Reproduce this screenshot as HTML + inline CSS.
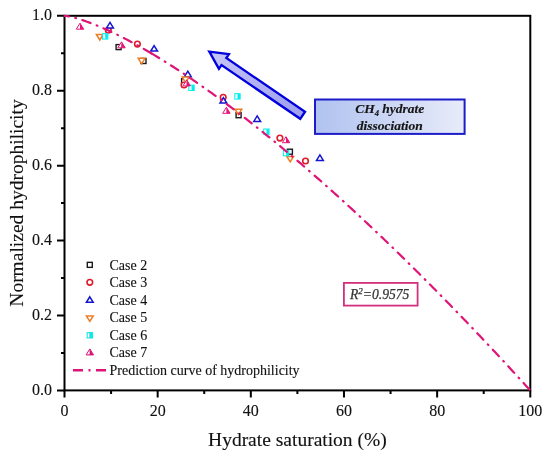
<!DOCTYPE html>
<html><head><meta charset="utf-8"><style>
html,body{margin:0;padding:0;background:#fff;width:550px;height:457px;overflow:hidden}
svg{display:block;font-family:"Liberation Serif","Times New Roman",serif}
.t{fill:#111;stroke:#111;stroke-width:0.12px}
.bi{font-style:italic;font-weight:bold;font-size:13.5px;fill:#151515;stroke:#151515;stroke-width:0.15px}
.it{font-style:italic;font-size:13.6px;fill:#333;stroke:#333;stroke-width:0.25px}
</style></head><body>
<svg width="550" height="457" viewBox="0 0 550 457">
<rect width="550" height="457" fill="#fff"/>
<defs><linearGradient id="ag" gradientUnits="userSpaceOnUse" x1="0" y1="0" x2="113" y2="0"><stop offset="0" stop-color="#c6c6f6"/><stop offset="1" stop-color="#9e9eee"/></linearGradient><linearGradient id="bg" x1="0" y1="0" x2="1" y2="0"><stop offset="0" stop-color="#b0c2f0"/><stop offset="1" stop-color="#e8ecf9"/></linearGradient></defs><g transform="translate(209.3,51.6) rotate(34.3)"><path d="M0,0 L17.7,-8.9 L17.7,-4.25 L113.0,-4.25 L113.0,4.25 L17.7,4.25 L17.7,8.9 Z" fill="url(#ag)" stroke="#0000dc" stroke-width="2.3" stroke-linejoin="miter"/></g>
<rect x="64.5" y="15.8" width="465.80" height="374.60" fill="none" stroke="#000" stroke-width="2"/><path d="M64.50,390.40 v7 M111.08,390.40 v3.5 M157.66,390.40 v7 M204.24,390.40 v3.5 M250.82,390.40 v7 M297.40,390.40 v3.5 M343.98,390.40 v7 M390.56,390.40 v3.5 M437.14,390.40 v7 M483.72,390.40 v3.5 M530.30,390.40 v7 M64.50,390.40 h-7.5 M64.50,352.94 h-3.5 M64.50,315.48 h-7.5 M64.50,278.02 h-3.5 M64.50,240.56 h-7.5 M64.50,203.10 h-3.5 M64.50,165.64 h-7.5 M64.50,128.18 h-3.5 M64.50,90.72 h-7.5 M64.50,53.26 h-3.5 M64.50,15.80 h-7.5" stroke="#000" stroke-width="2" fill="none"/>
<g class="t" font-size="16"><text x="64.50" y="415.8" text-anchor="middle">0</text><text x="157.66" y="415.8" text-anchor="middle">20</text><text x="250.82" y="415.8" text-anchor="middle">40</text><text x="343.98" y="415.8" text-anchor="middle">60</text><text x="437.14" y="415.8" text-anchor="middle">80</text><text x="530.30" y="415.8" text-anchor="middle">100</text><text x="52.1" y="394.80" text-anchor="end">0.0</text><text x="52.1" y="319.88" text-anchor="end">0.2</text><text x="52.1" y="244.96" text-anchor="end">0.4</text><text x="52.1" y="170.04" text-anchor="end">0.6</text><text x="52.1" y="95.12" text-anchor="end">0.8</text><text x="52.1" y="20.20" text-anchor="end">1.0</text></g>
<g class="t"><text x="297.4" y="445.7" text-anchor="middle" font-size="19.5">Hydrate saturation (%)</text><text transform="translate(23.3,203) rotate(-90)" text-anchor="middle" font-size="19.5">Normalized hydrophilicity</text></g>
<rect x="116.10" y="44.60" width="5" height="5" fill="#fff" stroke="#1a1a1a" stroke-width="1.4"/><rect x="141.00" y="58.50" width="5" height="5" fill="#fff" stroke="#1a1a1a" stroke-width="1.4"/><rect x="181.60" y="78.70" width="5" height="5" fill="#fff" stroke="#1a1a1a" stroke-width="1.4"/><rect x="236.10" y="112.70" width="5" height="5" fill="#fff" stroke="#1a1a1a" stroke-width="1.4"/><rect x="287.40" y="149.20" width="5" height="5" fill="#fff" stroke="#1a1a1a" stroke-width="1.4"/><circle cx="108.30" cy="30.20" r="2.8" fill="#fff" stroke="#dd1c2c" stroke-width="1.6"/><circle cx="137.40" cy="44.10" r="2.8" fill="#fff" stroke="#dd1c2c" stroke-width="1.6"/><circle cx="184.00" cy="85.00" r="2.8" fill="#fff" stroke="#dd1c2c" stroke-width="1.6"/><circle cx="223.20" cy="97.30" r="2.8" fill="#fff" stroke="#dd1c2c" stroke-width="1.6"/><circle cx="279.90" cy="138.10" r="2.8" fill="#fff" stroke="#dd1c2c" stroke-width="1.6"/><circle cx="305.50" cy="161.00" r="2.8" fill="#fff" stroke="#dd1c2c" stroke-width="1.6"/><path d="M110.00,22.40 L113.40,27.90 L106.60,27.90 Z" fill="#fff" stroke="#1414d2" stroke-width="1.5"/><path d="M154.10,45.60 L157.50,51.10 L150.70,51.10 Z" fill="#fff" stroke="#1414d2" stroke-width="1.5"/><path d="M187.80,71.20 L191.20,76.70 L184.40,76.70 Z" fill="#fff" stroke="#1414d2" stroke-width="1.5"/><path d="M223.40,97.60 L226.80,103.10 L220.00,103.10 Z" fill="#fff" stroke="#1414d2" stroke-width="1.5"/><path d="M257.20,115.90 L260.60,121.40 L253.80,121.40 Z" fill="#fff" stroke="#1414d2" stroke-width="1.5"/><path d="M319.90,154.90 L323.30,160.40 L316.50,160.40 Z" fill="#fff" stroke="#1414d2" stroke-width="1.5"/><path d="M99.80,40.00 L103.20,34.50 L96.40,34.50 Z" fill="#fff" stroke="#ee7d22" stroke-width="1.5"/><path d="M141.60,63.80 L145.00,58.30 L138.20,58.30 Z" fill="#fff" stroke="#ee7d22" stroke-width="1.5"/><path d="M185.60,82.60 L189.00,77.10 L182.20,77.10 Z" fill="#fff" stroke="#ee7d22" stroke-width="1.5"/><path d="M238.40,114.70 L241.80,109.20 L235.00,109.20 Z" fill="#fff" stroke="#ee7d22" stroke-width="1.5"/><path d="M290.20,161.90 L293.60,156.40 L286.80,156.40 Z" fill="#fff" stroke="#ee7d22" stroke-width="1.5"/><rect x="102.70" y="33.90" width="2.5" height="5" fill="#fff"/><rect x="105.20" y="33.90" width="2.5" height="5" fill="#00eeee"/><rect x="102.50" y="33.70" width="5.4" height="5.4" fill="none" stroke="#00eeee" stroke-width="1.0"/><rect x="189.00" y="85.30" width="2.5" height="5" fill="#fff"/><rect x="191.50" y="85.30" width="2.5" height="5" fill="#00eeee"/><rect x="188.80" y="85.10" width="5.4" height="5.4" fill="none" stroke="#00eeee" stroke-width="1.0"/><rect x="235.00" y="93.90" width="2.5" height="5" fill="#fff"/><rect x="237.50" y="93.90" width="2.5" height="5" fill="#00eeee"/><rect x="234.80" y="93.70" width="5.4" height="5.4" fill="none" stroke="#00eeee" stroke-width="1.0"/><rect x="263.90" y="129.20" width="2.5" height="5" fill="#fff"/><rect x="266.40" y="129.20" width="2.5" height="5" fill="#00eeee"/><rect x="263.70" y="129.00" width="5.4" height="5.4" fill="none" stroke="#00eeee" stroke-width="1.0"/><rect x="283.60" y="150.60" width="2.5" height="5" fill="#fff"/><rect x="286.10" y="150.60" width="2.5" height="5" fill="#00eeee"/><rect x="283.40" y="150.40" width="5.4" height="5.4" fill="none" stroke="#00eeee" stroke-width="1.0"/><path d="M80.00,23.20 L76.30,29.20 L80.00,29.20 Z" fill="#fff"/><path d="M80.00,23.20 L83.70,29.20 L80.00,29.20 Z" fill="#e6127a"/><path d="M80.00,23.20 L83.70,29.20 L76.30,29.20 Z" fill="none" stroke="#e6127a" stroke-width="1.0"/><path d="M121.50,41.80 L117.80,47.80 L121.50,47.80 Z" fill="#fff"/><path d="M121.50,41.80 L125.20,47.80 L121.50,47.80 Z" fill="#e6127a"/><path d="M121.50,41.80 L125.20,47.80 L117.80,47.80 Z" fill="none" stroke="#e6127a" stroke-width="1.0"/><path d="M186.70,79.90 L183.00,85.90 L186.70,85.90 Z" fill="#fff"/><path d="M186.70,79.90 L190.40,85.90 L186.70,85.90 Z" fill="#e6127a"/><path d="M186.70,79.90 L190.40,85.90 L183.00,85.90 Z" fill="none" stroke="#e6127a" stroke-width="1.0"/><path d="M226.40,107.30 L222.70,113.30 L226.40,113.30 Z" fill="#fff"/><path d="M226.40,107.30 L230.10,113.30 L226.40,113.30 Z" fill="#e6127a"/><path d="M226.40,107.30 L230.10,113.30 L222.70,113.30 Z" fill="none" stroke="#e6127a" stroke-width="1.0"/><path d="M286.00,136.70 L282.30,142.70 L286.00,142.70 Z" fill="#fff"/><path d="M286.00,136.70 L289.70,142.70 L286.00,142.70 Z" fill="#e6127a"/><path d="M286.00,136.70 L289.70,142.70 L282.30,142.70 Z" fill="none" stroke="#e6127a" stroke-width="1.0"/>
<path d="M64.50,15.80 L66.49,16.01 L68.46,16.35 L70.42,16.75 L72.37,17.20 L74.31,17.69 L76.24,18.22 L78.16,18.78 L80.07,19.36 L81.97,19.97 L83.87,20.60 L85.76,21.26 L87.64,21.93 L89.52,22.62 L91.39,23.33 L93.26,24.05 L95.11,24.79 L96.97,25.55 L98.81,26.31 L100.65,27.09 L102.49,27.89 L104.32,28.69 L106.15,29.51 L107.97,30.34 L109.78,31.17 L111.59,32.02 L113.40,32.88 L115.20,33.75 L117.00,34.63 L118.79,35.51 L120.58,36.41 L122.37,37.31 L124.15,38.22 L125.92,39.14 L127.69,40.07 L129.46,41.00 L131.23,41.95 L132.99,42.90 L134.74,43.85 L136.50,44.82 L138.24,45.79 L139.99,46.76 L141.73,47.75 L143.47,48.74 L145.20,49.73 L146.94,50.73 L148.66,51.74 L150.39,52.75 L151.42,53.36" fill="none" stroke="#de1477" stroke-width="2.2" stroke-linecap="round" stroke-dasharray="8.8 6.55 0.8 6.51" stroke-dashoffset="4.35"/><path d="M151.42,53.36 L153.14,54.38 L154.86,55.41 L156.57,56.44 L158.28,57.48 L159.99,58.52 L161.69,59.57 L163.39,60.62 L165.09,61.68 L166.78,62.74 L168.48,63.81 L170.16,64.88 L171.85,65.96 L173.53,67.04 L175.21,68.12 L176.89,69.21 L178.57,70.30 L180.24,71.40 L181.91,72.50 L183.57,73.61 L185.24,74.72 L186.90,75.83 L188.56,76.95 L190.21,78.07 L191.87,79.20 L193.52,80.32 L195.17,81.46 L196.81,82.59 L198.46,83.73 L200.10,84.88 L201.74,86.02 L203.37,87.17 L205.01,88.32 L206.64,89.48 L208.27,90.64 L209.90,91.80 L211.52,92.97 L213.14,94.14 L214.76,95.31 L216.38,96.49 L218.00,97.66 L219.61,98.85 L221.22,100.03 L222.83,101.22 L224.44,102.41 L226.05,103.60 L227.65,104.80 L229.25,106.00 L230.85,107.20 L232.45,108.40 L234.04,109.61 L235.63,110.82 L237.22,112.03 L238.81,113.24 L240.40,114.46 L241.98,115.68 L243.57,116.90 L245.15,118.13 L246.73,119.36 L248.30,120.59 L249.88,121.82 L251.45,123.05 L253.02,124.29 L254.59,125.53 L256.16,126.77 L257.73,128.02 L259.29,129.26 L260.85,130.51 L262.42,131.76 L263.97,133.01 L265.53,134.27 L267.09,135.53 L268.64,136.79 L270.19,138.05 L271.74,139.31 L273.29,140.58 L274.84,141.85 L276.38,143.12 L277.92,144.39 L279.47,145.66 L281.01,146.94 L282.54,148.22 L284.08,149.50 L285.62,150.78 L287.15,152.06 L288.68,153.35 L290.21,154.64 L291.74,155.93 L293.27,157.22 L294.79,158.51 L296.32,159.81 L297.84,161.10 L299.36,162.40 L300.88,163.70 L302.40,165.01 L303.91,166.31 L305.43,167.62 L306.94,168.92 L308.45,170.23 L309.96,171.55 L311.47,172.86 L312.98,174.17 L314.48,175.49 L315.99,176.81 L317.49,178.13 L318.99,179.45 L320.49,180.77 L321.99,182.10 L323.49,183.42 L324.98,184.75 L326.48,186.08 L327.97,187.41 L329.46,188.74 L330.95,190.08 L332.44,191.41 L333.93,192.75 L335.42,194.09 L336.90,195.43 L338.38,196.77 L339.87,198.11 L341.35,199.45 L342.83,200.80 L344.30,202.15 L345.78,203.50 L347.26,204.85 L348.73,206.20 L350.20,207.55 L351.68,208.91 L353.15,210.26 L354.61,211.62 L356.08,212.98 L357.55,214.34 L359.01,215.70 L360.48,217.06 L361.94,218.43 L363.40,219.79 L364.86,221.16 L366.32,222.52 L367.78,223.89 L369.24,225.26 L370.69,226.64 L372.15,228.01 L373.60,229.38 L375.05,230.76 L376.50,232.14 L377.95,233.51 L379.40,234.89 L380.85,236.27 L382.29,237.66 L383.74,239.04 L385.18,240.42 L386.62,241.81 L388.06,243.19 L389.50,244.58 L390.94,245.97 L392.38,247.36 L393.82,248.75 L395.25,250.15 L396.69,251.54 L398.12,252.93 L399.55,254.33 L400.99,255.73 L402.42,257.12 L403.84,258.52 L405.27,259.92 L406.70,261.33 L408.13,262.73 L409.55,264.13 L410.97,265.54 L412.40,266.94 L413.82,268.35 L415.24,269.76 L416.66,271.17 L418.08,272.58 L419.49,273.99 L420.91,275.40 L422.32,276.81 L423.74,278.23 L425.15,279.64 L426.56,281.06 L427.97,282.48 L429.38,283.89 L430.79,285.31 L432.20,286.73 L433.61,288.16 L435.02,289.58 L436.42,291.00 L437.82,292.43 L439.23,293.85 L440.63,295.28 L442.03,296.70 L443.43,298.13 L444.83,299.56 L446.23,300.99 L447.62,302.42 L449.02,303.85 L450.42,305.29 L451.81,306.72 L453.20,308.16 L454.60,309.59 L455.99,311.03 L457.38,312.47 L458.77,313.90 L460.16,315.34 L461.54,316.78 L462.93,318.23 L464.32,319.67 L465.70,321.11 L467.09,322.55 L468.47,324.00 L469.85,325.44 L471.23,326.89 L472.61,328.34 L473.99,329.79 L475.37,331.24 L476.75,332.69 L478.12,334.14 L479.50,335.59 L480.88,337.04 L482.25,338.49 L483.62,339.95 L485.00,341.40 L486.37,342.86 L487.74,344.31 L489.11,345.77 L490.48,347.23 L491.84,348.69 L493.21,350.15 L494.58,351.61 L495.94,353.07 L497.31,354.53 L498.67,356.00 L500.03,357.46 L501.40,358.92 L502.76,360.39 L504.12,361.86 L505.48,363.32 L506.83,364.79 L508.19,366.26 L509.55,367.73 L510.91,369.20 L512.26,370.67 L513.62,372.14 L514.97,373.61 L516.32,375.09 L517.67,376.56 L519.03,378.03 L520.38,379.51 L521.73,380.99 L523.07,382.46 L524.42,383.94 L525.77,385.42 L527.12,386.90 L528.46,388.38 L529.81,389.86 L530.30,390.40" fill="none" stroke="#de1477" stroke-width="2.2" stroke-linecap="round" stroke-dasharray="8.8 6.55 0.8 6.51" stroke-dashoffset="22.41"/>
<rect x="315" y="99.5" width="149.6" height="34.4" fill="url(#bg)" stroke="#1c1cc8" stroke-width="2"/><text x="389.8" y="112.5" text-anchor="middle" class="bi">CH<tspan font-size="8.5" dy="3">4</tspan><tspan dy="-3"> hydrate</tspan></text><text x="389.8" y="129.9" text-anchor="middle" class="bi">dissociation</text>
<rect x="343.9" y="282.9" width="73.7" height="22.7" fill="#fff" stroke="#d2307e" stroke-width="1.8"/><text x="350" y="299.2" class="it">R<tspan font-size="9" dy="-5">2</tspan><tspan dy="5">=0.9575</tspan></text>
<g class="t" font-size="14"><rect x="87.30" y="262.35" width="5" height="5" fill="#fff" stroke="#1a1a1a" stroke-width="1.4"/><text x="109.5" y="269.50">Case 2</text><circle cx="89.80" cy="282.35" r="2.8" fill="#fff" stroke="#dd1c2c" stroke-width="1.6"/><text x="109.5" y="287.08">Case 3</text><path d="M89.80,296.80 L93.20,302.30 L86.40,302.30 Z" fill="#fff" stroke="#1414d2" stroke-width="1.5"/><text x="109.5" y="304.66">Case 4</text><path d="M89.80,321.40 L93.20,315.90 L86.40,315.90 Z" fill="#fff" stroke="#ee7d22" stroke-width="1.5"/><text x="109.5" y="322.24">Case 5</text><rect x="87.30" y="332.80" width="2.5" height="5" fill="#fff"/><rect x="89.80" y="332.80" width="2.5" height="5" fill="#00eeee"/><rect x="87.10" y="332.60" width="5.4" height="5.4" fill="none" stroke="#00eeee" stroke-width="1.0"/><text x="109.5" y="339.82">Case 6</text><path d="M89.80,348.90 L86.10,354.90 L89.80,354.90 Z" fill="#fff"/><path d="M89.80,348.90 L93.50,354.90 L89.80,354.90 Z" fill="#e6127a"/><path d="M89.80,348.90 L93.50,354.90 L86.10,354.90 Z" fill="none" stroke="#e6127a" stroke-width="1.0"/><text x="109.5" y="357.40">Case 7</text><path d="M73,370.30 H106.5" stroke="#de1477" stroke-width="2.5" stroke-dasharray="10 5.5 2 5.5" fill="none"/><text x="109.5" y="374.98">Prediction curve of hydrophilicity</text></g>
</svg>
</body></html>
